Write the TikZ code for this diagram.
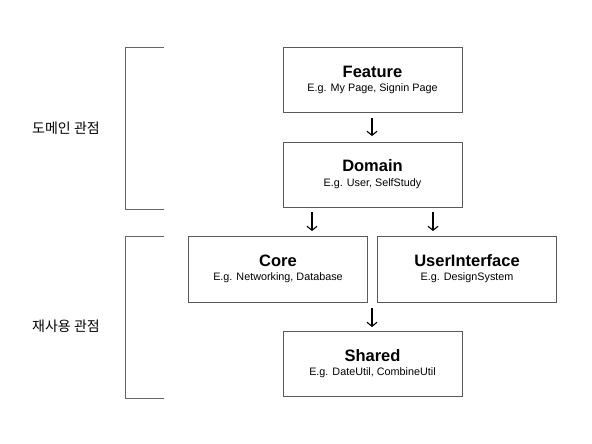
\documentclass[tikz,border=0pt]{standalone}
\usepackage{fontspec}
\setmainfont{Liberation Sans}
\newfontfamily\kr{Noto Sans CJK KR}
\usetikzlibrary{arrows.meta}
\begin{document}
\begin{tikzpicture}[x=1pt,y=-1pt,
  box/.style={draw=black!65,line width=0.9pt,fill=white,inner sep=0pt},
  ttl/.style={font=\fontsize{16.5}{18}\selectfont\bfseries,anchor=center},
  sub/.style={font=\fontsize{10.8}{12}\selectfont,anchor=center},
  lbl/.style={font=\kr\fontsize{14}{16}\selectfont,anchor=center},
  brk/.style={draw=black!60,line width=0.8pt},
  arr/.style={line width=1.1pt,-{Straight Barb[length=4pt,width=10pt,line width=1.1pt]}}]
\useasboundingbox (0,0) rectangle (592,444);
% boxes
\node[box,minimum width=179pt,minimum height=65pt] (feature) at (372.5,80) {};
\node[box,minimum width=179pt,minimum height=65pt] (domain) at (372.5,174.5) {};
\node[box,minimum width=179pt,minimum height=66pt] (core) at (278,269.5) {};
\node[box,minimum width=179pt,minimum height=66pt] (ui) at (467,269.5) {};
\node[box,minimum width=179pt,minimum height=65pt] (shared) at (372.5,364) {};
% texts
\node[ttl] (featureT) at (372.5,71.5) {Feature};
\node[sub] (featureS) at (372.5,89) {E.g. My Page, Signin Page};
\node[ttl] (domainT) at (372.5,166) {Domain};
\node[sub] (domainS) at (372.5,183.5) {E.g. User, SelfStudy};
\node[ttl] (coreT) at (278,260.5) {Core};
\node[sub] (coreS) at (278,278) {E.g. Networking, Database};
\node[ttl] (uiT) at (467,260.5) {UserInterface};
\node[sub] (uiS) at (467,278) {E.g. DesignSystem};
\node[ttl] (sharedT) at (372.5,355.5) {Shared};
\node[sub] (sharedS) at (372.5,373) {E.g. DateUtil, CombineUtil};
% arrows
\coordinate (a1s) at (372,118); \coordinate (a1e) at (372,136);
\coordinate (a2s) at (312,212); \coordinate (a2e) at (312,231);
\coordinate (a3s) at (433,212); \coordinate (a3e) at (433,231);
\coordinate (a4s) at (372,308); \coordinate (a4e) at (372,327);
\draw[arr] (a1s) -- (a1e);
\draw[arr] (a2s) -- (a2e);
\draw[arr] (a3s) -- (a3e);
\draw[arr] (a4s) -- (a4e);
% brackets
\coordinate (b1a) at (164,47.5); \coordinate (b1b) at (125.5,47.5);
\coordinate (b1c) at (125.5,209.5); \coordinate (b1d) at (164,209.5);
\draw[brk] (b1a) -- (b1b) -- (b1c) -- (b1d);
\coordinate (b2a) at (164,236.5); \coordinate (b2b) at (125.5,236.5);
\coordinate (b2c) at (125.5,398.5); \coordinate (b2d) at (164,398.5);
\draw[brk] (b2a) -- (b2b) -- (b2c) -- (b2d);
\node[lbl] (dom) at (66,128.5) {도메인 관점};
\node[lbl] (reuse) at (66,326.5) {재사용 관점};
\end{tikzpicture}
\end{document}
